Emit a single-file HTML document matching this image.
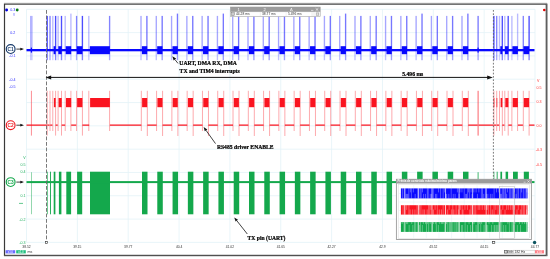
<!DOCTYPE html><html><head><meta charset="utf-8"><title>Oscilloscope capture</title>
<style>html,body{margin:0;padding:0;background:#fff;}body{width:550px;height:259px;overflow:hidden;font-family:"Liberation Sans",sans-serif;}svg{display:block;}text{font-family:"Liberation Sans",sans-serif;}.s{font-family:"Liberation Serif",serif;font-weight:bold;fill:#000;stroke:#000;stroke-width:.2px;}</style></head><body>
<svg width="550" height="259" viewBox="0 0 550 259">
<rect width="550" height="259" fill="#fff"/>
<path d="M26.50 9.3V242.4M26.5 9.30H535.0M77.35 9.3V242.4M26.5 32.61H535.0M128.20 9.3V242.4M26.5 55.92H535.0M179.05 9.3V242.4M26.5 79.23H535.0M229.90 9.3V242.4M26.5 102.54H535.0M280.75 9.3V242.4M26.5 125.85H535.0M331.60 9.3V242.4M26.5 149.16H535.0M382.45 9.3V242.4M26.5 172.47H535.0M433.30 9.3V242.4M26.5 195.78H535.0M484.15 9.3V242.4M26.5 219.09H535.0M535.00 9.3V242.4M26.5 242.40H535.0" stroke="#e3f2f7" stroke-width="0.8" fill="none"/>
<g id="ch1">
<rect x="30.00" y="15.9" width="2.6" height="34.2" fill="#0808ff" opacity="0.3"/>
<rect x="30.00" y="50.1" width="2.6" height="10.1" fill="#0808ff" opacity="0.21"/>
<rect x="30.8" y="47.6" width="1.2" height="5" fill="#0808ff"/>
<rect x="46.53" y="15.9" width="1.35" height="34.2" fill="#0808ff" opacity="0.72"/>
<rect x="46.53" y="50.1" width="1.35" height="10.1" fill="#0808ff" opacity="0.50"/>
<rect x="49.33" y="15.9" width="1.35" height="34.2" fill="#0808ff" opacity="0.5"/>
<rect x="49.33" y="50.1" width="1.35" height="10.1" fill="#0808ff" opacity="0.35"/>
<rect x="52.12" y="15.9" width="1.35" height="34.2" fill="#0808ff" opacity="0.28"/>
<rect x="52.12" y="50.1" width="1.35" height="10.1" fill="#0808ff" opacity="0.20"/>
<rect x="54.93" y="15.9" width="1.35" height="34.2" fill="#0808ff" opacity="0.72"/>
<rect x="54.93" y="50.1" width="1.35" height="10.1" fill="#0808ff" opacity="0.50"/>
<rect x="57.43" y="15.9" width="1.35" height="34.2" fill="#0808ff" opacity="0.28"/>
<rect x="57.43" y="50.1" width="1.35" height="10.1" fill="#0808ff" opacity="0.20"/>
<rect x="60.83" y="15.9" width="1.35" height="34.2" fill="#0808ff" opacity="0.72"/>
<rect x="60.83" y="50.1" width="1.35" height="10.1" fill="#0808ff" opacity="0.50"/>
<rect x="64.53" y="15.9" width="1.35" height="34.2" fill="#0808ff" opacity="0.28"/>
<rect x="64.53" y="50.1" width="1.35" height="10.1" fill="#0808ff" opacity="0.20"/>
<rect x="70.23" y="13.6" width="1.35" height="36.5" fill="#0808ff" opacity="0.28"/>
<rect x="70.23" y="50.1" width="1.35" height="10.1" fill="#0808ff" opacity="0.20"/>
<rect x="75.92" y="15.9" width="1.35" height="34.2" fill="#0808ff" opacity="0.5"/>
<rect x="75.92" y="50.1" width="1.35" height="10.1" fill="#0808ff" opacity="0.35"/>
<rect x="81.73" y="15.9" width="1.35" height="34.2" fill="#0808ff" opacity="0.72"/>
<rect x="81.73" y="50.1" width="1.35" height="10.1" fill="#0808ff" opacity="0.50"/>
<rect x="88.12" y="15.9" width="1.35" height="34.2" fill="#0808ff" opacity="0.28"/>
<rect x="88.12" y="50.1" width="1.35" height="10.1" fill="#0808ff" opacity="0.20"/>
<rect x="108.92" y="15.9" width="1.35" height="34.2" fill="#0808ff" opacity="0.5"/>
<rect x="108.92" y="50.1" width="1.35" height="10.1" fill="#0808ff" opacity="0.35"/>
<rect x="53.60" y="46.2" width="2.00" height="8" fill="#0808ff"/>
<rect x="58.30" y="46.2" width="3.40" height="8" fill="#0808ff"/>
<rect x="65.70" y="46.2" width="5.50" height="8" fill="#0808ff"/>
<rect x="76.80" y="46.2" width="5.60" height="8" fill="#0808ff"/>
<rect x="89.80" y="46.2" width="20.10" height="8" fill="#0808ff"/>
<rect x="493.22" y="15.9" width="1.35" height="34.2" fill="#0808ff" opacity="0.72"/>
<rect x="493.22" y="50.1" width="1.35" height="10.1" fill="#0808ff" opacity="0.50"/>
<rect x="496.02" y="15.9" width="1.35" height="34.2" fill="#0808ff" opacity="0.5"/>
<rect x="496.02" y="50.1" width="1.35" height="10.1" fill="#0808ff" opacity="0.35"/>
<rect x="498.82" y="15.9" width="1.35" height="34.2" fill="#0808ff" opacity="0.28"/>
<rect x="498.82" y="50.1" width="1.35" height="10.1" fill="#0808ff" opacity="0.20"/>
<rect x="501.62" y="15.9" width="1.35" height="34.2" fill="#0808ff" opacity="0.72"/>
<rect x="501.62" y="50.1" width="1.35" height="10.1" fill="#0808ff" opacity="0.50"/>
<rect x="504.12" y="15.9" width="1.35" height="34.2" fill="#0808ff" opacity="0.28"/>
<rect x="504.12" y="50.1" width="1.35" height="10.1" fill="#0808ff" opacity="0.20"/>
<rect x="507.52" y="15.9" width="1.35" height="34.2" fill="#0808ff" opacity="0.72"/>
<rect x="507.52" y="50.1" width="1.35" height="10.1" fill="#0808ff" opacity="0.50"/>
<rect x="511.22" y="15.9" width="1.35" height="34.2" fill="#0808ff" opacity="0.28"/>
<rect x="511.22" y="50.1" width="1.35" height="10.1" fill="#0808ff" opacity="0.20"/>
<rect x="516.93" y="13.6" width="1.35" height="36.5" fill="#0808ff" opacity="0.28"/>
<rect x="516.93" y="50.1" width="1.35" height="10.1" fill="#0808ff" opacity="0.20"/>
<rect x="522.62" y="15.9" width="1.35" height="34.2" fill="#0808ff" opacity="0.5"/>
<rect x="522.62" y="50.1" width="1.35" height="10.1" fill="#0808ff" opacity="0.35"/>
<rect x="528.43" y="15.9" width="1.35" height="34.2" fill="#0808ff" opacity="0.72"/>
<rect x="528.43" y="50.1" width="1.35" height="10.1" fill="#0808ff" opacity="0.50"/>
<rect x="500.30" y="46.2" width="2.00" height="8" fill="#0808ff"/>
<rect x="505.00" y="46.2" width="3.40" height="8" fill="#0808ff"/>
<rect x="512.40" y="46.2" width="5.50" height="8" fill="#0808ff"/>
<rect x="523.50" y="46.2" width="5.60" height="8" fill="#0808ff"/>
<rect x="140.32" y="15.9" width="1.35" height="34.2" fill="#0808ff" opacity="0.36"/>
<rect x="140.32" y="50.1" width="1.35" height="10.1" fill="#0808ff" opacity="0.25"/>
<rect x="146.22" y="15.9" width="1.35" height="34.2" fill="#0808ff" opacity="0.55"/>
<rect x="146.22" y="50.1" width="1.35" height="10.1" fill="#0808ff" opacity="0.39"/>
<rect x="141.90" y="46.2" width="5.30" height="8" fill="#0808ff"/>
<rect x="155.61" y="15.9" width="1.35" height="34.2" fill="#0808ff" opacity="0.36"/>
<rect x="155.61" y="50.1" width="1.35" height="10.1" fill="#0808ff" opacity="0.25"/>
<rect x="161.51" y="15.9" width="1.35" height="34.2" fill="#0808ff" opacity="0.55"/>
<rect x="161.51" y="50.1" width="1.35" height="10.1" fill="#0808ff" opacity="0.39"/>
<rect x="157.19" y="46.2" width="5.30" height="8" fill="#0808ff"/>
<rect x="170.89" y="15.9" width="1.35" height="34.2" fill="#0808ff" opacity="0.36"/>
<rect x="170.89" y="50.1" width="1.35" height="10.1" fill="#0808ff" opacity="0.25"/>
<rect x="176.79" y="13.6" width="1.35" height="36.5" fill="#0808ff" opacity="0.55"/>
<rect x="176.79" y="50.1" width="1.35" height="10.1" fill="#0808ff" opacity="0.39"/>
<rect x="172.47" y="46.2" width="5.30" height="8" fill="#0808ff"/>
<rect x="186.18" y="15.9" width="1.35" height="34.2" fill="#0808ff" opacity="0.36"/>
<rect x="186.18" y="50.1" width="1.35" height="10.1" fill="#0808ff" opacity="0.25"/>
<rect x="192.08" y="15.9" width="1.35" height="34.2" fill="#0808ff" opacity="0.55"/>
<rect x="192.08" y="50.1" width="1.35" height="10.1" fill="#0808ff" opacity="0.39"/>
<rect x="187.75" y="46.2" width="5.30" height="8" fill="#0808ff"/>
<rect x="201.47" y="15.9" width="1.35" height="34.2" fill="#0808ff" opacity="0.36"/>
<rect x="201.47" y="50.1" width="1.35" height="10.1" fill="#0808ff" opacity="0.25"/>
<rect x="207.37" y="15.9" width="1.35" height="34.2" fill="#0808ff" opacity="0.55"/>
<rect x="207.37" y="50.1" width="1.35" height="10.1" fill="#0808ff" opacity="0.39"/>
<rect x="203.04" y="46.2" width="5.30" height="8" fill="#0808ff"/>
<rect x="216.75" y="15.9" width="1.35" height="34.2" fill="#0808ff" opacity="0.36"/>
<rect x="216.75" y="50.1" width="1.35" height="10.1" fill="#0808ff" opacity="0.25"/>
<rect x="222.65" y="13.6" width="1.35" height="36.5" fill="#0808ff" opacity="0.55"/>
<rect x="222.65" y="50.1" width="1.35" height="10.1" fill="#0808ff" opacity="0.39"/>
<rect x="218.32" y="46.2" width="5.30" height="8" fill="#0808ff"/>
<rect x="232.03" y="15.9" width="1.35" height="34.2" fill="#0808ff" opacity="0.36"/>
<rect x="232.03" y="50.1" width="1.35" height="10.1" fill="#0808ff" opacity="0.25"/>
<rect x="237.94" y="15.9" width="1.35" height="34.2" fill="#0808ff" opacity="0.55"/>
<rect x="237.94" y="50.1" width="1.35" height="10.1" fill="#0808ff" opacity="0.39"/>
<rect x="233.61" y="46.2" width="5.30" height="8" fill="#0808ff"/>
<rect x="247.32" y="15.9" width="1.35" height="34.2" fill="#0808ff" opacity="0.36"/>
<rect x="247.32" y="50.1" width="1.35" height="10.1" fill="#0808ff" opacity="0.25"/>
<rect x="253.22" y="15.9" width="1.35" height="34.2" fill="#0808ff" opacity="0.55"/>
<rect x="253.22" y="50.1" width="1.35" height="10.1" fill="#0808ff" opacity="0.39"/>
<rect x="248.90" y="46.2" width="5.30" height="8" fill="#0808ff"/>
<rect x="262.61" y="15.9" width="1.35" height="34.2" fill="#0808ff" opacity="0.36"/>
<rect x="262.61" y="50.1" width="1.35" height="10.1" fill="#0808ff" opacity="0.25"/>
<rect x="268.50" y="15.9" width="1.35" height="34.2" fill="#0808ff" opacity="0.55"/>
<rect x="268.50" y="50.1" width="1.35" height="10.1" fill="#0808ff" opacity="0.39"/>
<rect x="264.18" y="46.2" width="5.30" height="8" fill="#0808ff"/>
<rect x="277.89" y="15.9" width="1.35" height="34.2" fill="#0808ff" opacity="0.36"/>
<rect x="277.89" y="50.1" width="1.35" height="10.1" fill="#0808ff" opacity="0.25"/>
<rect x="283.79" y="15.9" width="1.35" height="34.2" fill="#0808ff" opacity="0.55"/>
<rect x="283.79" y="50.1" width="1.35" height="10.1" fill="#0808ff" opacity="0.39"/>
<rect x="279.47" y="46.2" width="5.30" height="8" fill="#0808ff"/>
<rect x="293.18" y="15.9" width="1.35" height="34.2" fill="#0808ff" opacity="0.36"/>
<rect x="293.18" y="50.1" width="1.35" height="10.1" fill="#0808ff" opacity="0.25"/>
<rect x="299.07" y="15.9" width="1.35" height="34.2" fill="#0808ff" opacity="0.55"/>
<rect x="299.07" y="50.1" width="1.35" height="10.1" fill="#0808ff" opacity="0.39"/>
<rect x="294.75" y="46.2" width="5.30" height="8" fill="#0808ff"/>
<rect x="308.46" y="15.9" width="1.35" height="34.2" fill="#0808ff" opacity="0.36"/>
<rect x="308.46" y="50.1" width="1.35" height="10.1" fill="#0808ff" opacity="0.25"/>
<rect x="314.36" y="15.9" width="1.35" height="34.2" fill="#0808ff" opacity="0.55"/>
<rect x="314.36" y="50.1" width="1.35" height="10.1" fill="#0808ff" opacity="0.39"/>
<rect x="310.03" y="46.2" width="5.30" height="8" fill="#0808ff"/>
<rect x="323.75" y="15.9" width="1.35" height="34.2" fill="#0808ff" opacity="0.36"/>
<rect x="323.75" y="50.1" width="1.35" height="10.1" fill="#0808ff" opacity="0.25"/>
<rect x="329.65" y="15.9" width="1.35" height="34.2" fill="#0808ff" opacity="0.55"/>
<rect x="329.65" y="50.1" width="1.35" height="10.1" fill="#0808ff" opacity="0.39"/>
<rect x="325.32" y="46.2" width="5.30" height="8" fill="#0808ff"/>
<rect x="339.03" y="15.9" width="1.35" height="34.2" fill="#0808ff" opacity="0.36"/>
<rect x="339.03" y="50.1" width="1.35" height="10.1" fill="#0808ff" opacity="0.25"/>
<rect x="344.93" y="13.6" width="1.35" height="36.5" fill="#0808ff" opacity="0.55"/>
<rect x="344.93" y="50.1" width="1.35" height="10.1" fill="#0808ff" opacity="0.39"/>
<rect x="340.61" y="46.2" width="5.30" height="8" fill="#0808ff"/>
<rect x="354.31" y="15.9" width="1.35" height="34.2" fill="#0808ff" opacity="0.36"/>
<rect x="354.31" y="50.1" width="1.35" height="10.1" fill="#0808ff" opacity="0.25"/>
<rect x="360.21" y="15.9" width="1.35" height="34.2" fill="#0808ff" opacity="0.55"/>
<rect x="360.21" y="50.1" width="1.35" height="10.1" fill="#0808ff" opacity="0.39"/>
<rect x="355.89" y="46.2" width="5.30" height="8" fill="#0808ff"/>
<rect x="369.60" y="15.9" width="1.35" height="34.2" fill="#0808ff" opacity="0.36"/>
<rect x="369.60" y="50.1" width="1.35" height="10.1" fill="#0808ff" opacity="0.25"/>
<rect x="375.50" y="15.9" width="1.35" height="34.2" fill="#0808ff" opacity="0.55"/>
<rect x="375.50" y="50.1" width="1.35" height="10.1" fill="#0808ff" opacity="0.39"/>
<rect x="371.18" y="46.2" width="5.30" height="8" fill="#0808ff"/>
<rect x="384.89" y="15.9" width="1.35" height="34.2" fill="#0808ff" opacity="0.36"/>
<rect x="384.89" y="50.1" width="1.35" height="10.1" fill="#0808ff" opacity="0.25"/>
<rect x="390.79" y="15.9" width="1.35" height="34.2" fill="#0808ff" opacity="0.55"/>
<rect x="390.79" y="50.1" width="1.35" height="10.1" fill="#0808ff" opacity="0.39"/>
<rect x="386.46" y="46.2" width="5.30" height="8" fill="#0808ff"/>
<rect x="400.17" y="15.9" width="1.35" height="34.2" fill="#0808ff" opacity="0.36"/>
<rect x="400.17" y="50.1" width="1.35" height="10.1" fill="#0808ff" opacity="0.25"/>
<rect x="406.07" y="15.9" width="1.35" height="34.2" fill="#0808ff" opacity="0.55"/>
<rect x="406.07" y="50.1" width="1.35" height="10.1" fill="#0808ff" opacity="0.39"/>
<rect x="401.75" y="46.2" width="5.30" height="8" fill="#0808ff"/>
<rect x="415.45" y="15.9" width="1.35" height="34.2" fill="#0808ff" opacity="0.36"/>
<rect x="415.45" y="50.1" width="1.35" height="10.1" fill="#0808ff" opacity="0.25"/>
<rect x="421.35" y="13.6" width="1.35" height="36.5" fill="#0808ff" opacity="0.55"/>
<rect x="421.35" y="50.1" width="1.35" height="10.1" fill="#0808ff" opacity="0.39"/>
<rect x="417.03" y="46.2" width="5.30" height="8" fill="#0808ff"/>
<rect x="430.74" y="15.9" width="1.35" height="34.2" fill="#0808ff" opacity="0.36"/>
<rect x="430.74" y="50.1" width="1.35" height="10.1" fill="#0808ff" opacity="0.25"/>
<rect x="436.64" y="15.9" width="1.35" height="34.2" fill="#0808ff" opacity="0.55"/>
<rect x="436.64" y="50.1" width="1.35" height="10.1" fill="#0808ff" opacity="0.39"/>
<rect x="432.32" y="46.2" width="5.30" height="8" fill="#0808ff"/>
<rect x="446.03" y="15.9" width="1.35" height="34.2" fill="#0808ff" opacity="0.36"/>
<rect x="446.03" y="50.1" width="1.35" height="10.1" fill="#0808ff" opacity="0.25"/>
<rect x="451.93" y="15.9" width="1.35" height="34.2" fill="#0808ff" opacity="0.55"/>
<rect x="451.93" y="50.1" width="1.35" height="10.1" fill="#0808ff" opacity="0.39"/>
<rect x="447.60" y="46.2" width="5.30" height="8" fill="#0808ff"/>
<rect x="461.31" y="15.9" width="1.35" height="34.2" fill="#0808ff" opacity="0.36"/>
<rect x="461.31" y="50.1" width="1.35" height="10.1" fill="#0808ff" opacity="0.25"/>
<rect x="467.21" y="13.6" width="1.35" height="36.5" fill="#0808ff" opacity="0.55"/>
<rect x="467.21" y="50.1" width="1.35" height="10.1" fill="#0808ff" opacity="0.39"/>
<rect x="462.88" y="46.2" width="5.30" height="8" fill="#0808ff"/>
<rect x="477.50" y="15.9" width="1.2" height="34.2" fill="#0808ff" opacity="0.6"/>
<rect x="477.50" y="50.1" width="1.2" height="10.1" fill="#0808ff" opacity="0.42"/>
<rect x="477.50" y="47.6" width="1.2" height="5" fill="#0808ff"/>
<rect x="26.5" y="49" width="508.0" height="2.3" fill="#0808ff"/>
</g>
<g id="ch2">
<rect x="30.92" y="90.8" width="0.95" height="44.8" fill="#fa1420" opacity="0.5"/>
<rect x="46.73" y="90.8" width="0.95" height="44.8" fill="#fa1420" opacity="0.38"/>
<rect x="49.52" y="90.8" width="0.95" height="40.2" fill="#fa1420" opacity="0.38"/>
<rect x="52.32" y="90.8" width="0.95" height="40.2" fill="#fa1420" opacity="0.38"/>
<rect x="55.12" y="90.8" width="0.95" height="44.8" fill="#fa1420" opacity="0.38"/>
<rect x="57.62" y="90.8" width="0.95" height="40.2" fill="#fa1420" opacity="0.38"/>
<rect x="61.02" y="90.8" width="0.95" height="44.8" fill="#fa1420" opacity="0.38"/>
<rect x="64.73" y="90.8" width="0.95" height="40.2" fill="#fa1420" opacity="0.38"/>
<rect x="70.43" y="90.8" width="0.95" height="40.2" fill="#fa1420" opacity="0.38"/>
<rect x="76.12" y="90.8" width="0.95" height="40.2" fill="#fa1420" opacity="0.38"/>
<rect x="81.93" y="90.8" width="0.95" height="44.8" fill="#fa1420" opacity="0.38"/>
<rect x="88.33" y="90.8" width="0.95" height="40.2" fill="#fa1420" opacity="0.38"/>
<rect x="109.12" y="90.8" width="0.95" height="40.2" fill="#fa1420" opacity="0.38"/>
<rect x="53.90" y="98" width="1.70" height="9.2" fill="#fa1420"/>
<rect x="58.60" y="98" width="3.10" height="9.2" fill="#fa1420"/>
<rect x="66.00" y="98" width="5.20" height="9.2" fill="#fa1420"/>
<rect x="77.10" y="98" width="5.30" height="9.2" fill="#fa1420"/>
<rect x="90.10" y="98" width="19.80" height="9.2" fill="#fa1420"/>
<rect x="493.42" y="90.8" width="0.95" height="44.8" fill="#fa1420" opacity="0.38"/>
<rect x="496.22" y="90.8" width="0.95" height="40.2" fill="#fa1420" opacity="0.38"/>
<rect x="499.02" y="90.8" width="0.95" height="40.2" fill="#fa1420" opacity="0.38"/>
<rect x="501.82" y="90.8" width="0.95" height="44.8" fill="#fa1420" opacity="0.38"/>
<rect x="504.32" y="90.8" width="0.95" height="40.2" fill="#fa1420" opacity="0.38"/>
<rect x="507.72" y="90.8" width="0.95" height="44.8" fill="#fa1420" opacity="0.38"/>
<rect x="511.42" y="90.8" width="0.95" height="40.2" fill="#fa1420" opacity="0.38"/>
<rect x="517.12" y="90.8" width="0.95" height="40.2" fill="#fa1420" opacity="0.38"/>
<rect x="522.82" y="90.8" width="0.95" height="40.2" fill="#fa1420" opacity="0.38"/>
<rect x="528.62" y="90.8" width="0.95" height="44.8" fill="#fa1420" opacity="0.38"/>
<rect x="500.60" y="98" width="1.70" height="9.2" fill="#fa1420"/>
<rect x="505.30" y="98" width="3.10" height="9.2" fill="#fa1420"/>
<rect x="512.70" y="98" width="5.20" height="9.2" fill="#fa1420"/>
<rect x="523.80" y="98" width="5.30" height="9.2" fill="#fa1420"/>
<rect x="140.83" y="90.8" width="0.95" height="40.2" fill="#fa1420" opacity="0.38"/>
<rect x="146.83" y="90.8" width="0.95" height="45.2" fill="#fa1420" opacity="0.38"/>
<rect x="142.10" y="98" width="5.10" height="9.2" fill="#fa1420"/>
<rect x="156.11" y="90.8" width="0.95" height="40.2" fill="#fa1420" opacity="0.38"/>
<rect x="162.11" y="90.8" width="0.95" height="45.2" fill="#fa1420" opacity="0.38"/>
<rect x="157.38" y="98" width="5.10" height="9.2" fill="#fa1420"/>
<rect x="171.40" y="90.8" width="0.95" height="40.2" fill="#fa1420" opacity="0.38"/>
<rect x="177.40" y="90.8" width="0.95" height="45.2" fill="#fa1420" opacity="0.38"/>
<rect x="172.67" y="98" width="5.10" height="9.2" fill="#fa1420"/>
<rect x="186.68" y="90.8" width="0.95" height="40.2" fill="#fa1420" opacity="0.38"/>
<rect x="192.68" y="90.8" width="0.95" height="45.2" fill="#fa1420" opacity="0.38"/>
<rect x="187.95" y="98" width="5.10" height="9.2" fill="#fa1420"/>
<rect x="201.97" y="90.8" width="0.95" height="40.2" fill="#fa1420" opacity="0.38"/>
<rect x="207.97" y="90.8" width="0.95" height="45.2" fill="#fa1420" opacity="0.38"/>
<rect x="203.24" y="98" width="5.10" height="9.2" fill="#fa1420"/>
<rect x="217.25" y="90.8" width="0.95" height="40.2" fill="#fa1420" opacity="0.38"/>
<rect x="223.25" y="90.8" width="0.95" height="45.2" fill="#fa1420" opacity="0.38"/>
<rect x="218.52" y="98" width="5.10" height="9.2" fill="#fa1420"/>
<rect x="232.54" y="90.8" width="0.95" height="40.2" fill="#fa1420" opacity="0.38"/>
<rect x="238.54" y="90.8" width="0.95" height="45.2" fill="#fa1420" opacity="0.38"/>
<rect x="233.81" y="98" width="5.10" height="9.2" fill="#fa1420"/>
<rect x="247.82" y="90.8" width="0.95" height="40.2" fill="#fa1420" opacity="0.38"/>
<rect x="253.82" y="90.8" width="0.95" height="45.2" fill="#fa1420" opacity="0.38"/>
<rect x="249.09" y="98" width="5.10" height="9.2" fill="#fa1420"/>
<rect x="263.10" y="90.8" width="0.95" height="40.2" fill="#fa1420" opacity="0.38"/>
<rect x="269.11" y="90.8" width="0.95" height="45.2" fill="#fa1420" opacity="0.38"/>
<rect x="264.38" y="98" width="5.10" height="9.2" fill="#fa1420"/>
<rect x="278.39" y="90.8" width="0.95" height="40.2" fill="#fa1420" opacity="0.38"/>
<rect x="284.39" y="90.8" width="0.95" height="45.2" fill="#fa1420" opacity="0.38"/>
<rect x="279.67" y="98" width="5.10" height="9.2" fill="#fa1420"/>
<rect x="293.67" y="90.8" width="0.95" height="40.2" fill="#fa1420" opacity="0.38"/>
<rect x="299.68" y="90.8" width="0.95" height="45.2" fill="#fa1420" opacity="0.38"/>
<rect x="294.95" y="98" width="5.10" height="9.2" fill="#fa1420"/>
<rect x="308.96" y="90.8" width="0.95" height="40.2" fill="#fa1420" opacity="0.38"/>
<rect x="314.96" y="90.8" width="0.95" height="45.2" fill="#fa1420" opacity="0.38"/>
<rect x="310.23" y="98" width="5.10" height="9.2" fill="#fa1420"/>
<rect x="324.25" y="90.8" width="0.95" height="40.2" fill="#fa1420" opacity="0.38"/>
<rect x="330.25" y="90.8" width="0.95" height="45.2" fill="#fa1420" opacity="0.38"/>
<rect x="325.52" y="98" width="5.10" height="9.2" fill="#fa1420"/>
<rect x="339.53" y="90.8" width="0.95" height="40.2" fill="#fa1420" opacity="0.38"/>
<rect x="345.53" y="90.8" width="0.95" height="45.2" fill="#fa1420" opacity="0.38"/>
<rect x="340.81" y="98" width="5.10" height="9.2" fill="#fa1420"/>
<rect x="354.81" y="90.8" width="0.95" height="40.2" fill="#fa1420" opacity="0.38"/>
<rect x="360.81" y="90.8" width="0.95" height="45.2" fill="#fa1420" opacity="0.38"/>
<rect x="356.09" y="98" width="5.10" height="9.2" fill="#fa1420"/>
<rect x="370.10" y="90.8" width="0.95" height="40.2" fill="#fa1420" opacity="0.38"/>
<rect x="376.10" y="90.8" width="0.95" height="45.2" fill="#fa1420" opacity="0.38"/>
<rect x="371.38" y="98" width="5.10" height="9.2" fill="#fa1420"/>
<rect x="385.38" y="90.8" width="0.95" height="40.2" fill="#fa1420" opacity="0.38"/>
<rect x="391.39" y="90.8" width="0.95" height="45.2" fill="#fa1420" opacity="0.38"/>
<rect x="386.66" y="98" width="5.10" height="9.2" fill="#fa1420"/>
<rect x="400.67" y="90.8" width="0.95" height="40.2" fill="#fa1420" opacity="0.38"/>
<rect x="406.67" y="90.8" width="0.95" height="45.2" fill="#fa1420" opacity="0.38"/>
<rect x="401.94" y="98" width="5.10" height="9.2" fill="#fa1420"/>
<rect x="415.95" y="90.8" width="0.95" height="40.2" fill="#fa1420" opacity="0.38"/>
<rect x="421.95" y="90.8" width="0.95" height="45.2" fill="#fa1420" opacity="0.38"/>
<rect x="417.23" y="98" width="5.10" height="9.2" fill="#fa1420"/>
<rect x="431.24" y="90.8" width="0.95" height="40.2" fill="#fa1420" opacity="0.38"/>
<rect x="437.24" y="90.8" width="0.95" height="45.2" fill="#fa1420" opacity="0.38"/>
<rect x="432.52" y="98" width="5.10" height="9.2" fill="#fa1420"/>
<rect x="446.52" y="90.8" width="0.95" height="40.2" fill="#fa1420" opacity="0.38"/>
<rect x="452.53" y="90.8" width="0.95" height="45.2" fill="#fa1420" opacity="0.38"/>
<rect x="447.80" y="98" width="5.10" height="9.2" fill="#fa1420"/>
<rect x="461.81" y="90.8" width="0.95" height="40.2" fill="#fa1420" opacity="0.38"/>
<rect x="467.81" y="90.8" width="0.95" height="45.2" fill="#fa1420" opacity="0.38"/>
<rect x="463.08" y="98" width="5.10" height="9.2" fill="#fa1420"/>
<rect x="477.62" y="90.8" width="0.95" height="44.8" fill="#fa1420" opacity="0.7"/>
<rect x="493.6" y="98" width="0.8" height="9.2" fill="#fa1420" opacity=".85"/><rect x="496.5" y="98" width="0.8" height="9.2" fill="#fa1420" opacity=".85"/>
<path d="M26.50 125.1H46.90M47.40 125.1H49.60M50.20 125.1H52.40M55.60 125.1H57.70M61.70 125.1H65.10M71.20 125.1H76.20M82.40 125.1H89.20M109.90 125.1H141.30M147.30 125.1H156.59M162.59 125.1H171.87M177.87 125.1H187.16M193.16 125.1H202.44M208.44 125.1H217.72M223.72 125.1H233.01M239.01 125.1H248.30M254.30 125.1H263.58M269.58 125.1H278.87M284.87 125.1H294.15M300.15 125.1H309.43M315.44 125.1H324.72M330.72 125.1H340.00M346.01 125.1H355.29M361.29 125.1H370.57M376.58 125.1H385.86M391.86 125.1H401.14M407.15 125.1H416.43M422.43 125.1H431.72M437.72 125.1H447.00M453.00 125.1H462.28M468.29 125.1H477.70M478.50 125.1H493.60M494.10 125.1H496.30M496.90 125.1H499.10M502.30 125.1H504.40M508.40 125.1H511.80M517.90 125.1H522.90M529.10 125.1H534.50" stroke="#fa1420" stroke-width="1.4" fill="none"/>
</g>
<g id="ch3">
<rect x="31.0" y="172.2" width="0.9" height="42" fill="#14a84c" opacity=".5"/>
<rect x="47.00" y="171.7" width="0.60" height="42.6" fill="#14a84c"/>
<rect x="50.00" y="171.7" width="0.90" height="42.6" fill="#14a84c"/>
<rect x="53.70" y="171.7" width="1.70" height="42.6" fill="#14a84c"/>
<rect x="58.90" y="171.7" width="2.50" height="42.6" fill="#14a84c"/>
<rect x="66.30" y="171.7" width="4.80" height="42.6" fill="#14a84c"/>
<rect x="77.10" y="171.7" width="5.10" height="42.6" fill="#14a84c"/>
<rect x="90.00" y="171.7" width="20.00" height="42.6" fill="#14a84c"/>
<rect x="493.70" y="171.7" width="0.60" height="42.6" fill="#14a84c"/>
<rect x="496.70" y="171.7" width="0.90" height="42.6" fill="#14a84c"/>
<rect x="500.40" y="171.7" width="1.70" height="42.6" fill="#14a84c"/>
<rect x="505.60" y="171.7" width="2.50" height="42.6" fill="#14a84c"/>
<rect x="513.00" y="171.7" width="4.80" height="42.6" fill="#14a84c"/>
<rect x="523.80" y="171.7" width="5.10" height="42.6" fill="#14a84c"/>
<rect x="142.00" y="171.7" width="5.50" height="42.6" fill="#14a84c"/>
<rect x="157.28" y="171.7" width="5.50" height="42.6" fill="#14a84c"/>
<rect x="172.57" y="171.7" width="5.50" height="42.6" fill="#14a84c"/>
<rect x="187.85" y="171.7" width="5.50" height="42.6" fill="#14a84c"/>
<rect x="203.14" y="171.7" width="5.50" height="42.6" fill="#14a84c"/>
<rect x="218.42" y="171.7" width="5.50" height="42.6" fill="#14a84c"/>
<rect x="233.71" y="171.7" width="5.50" height="42.6" fill="#14a84c"/>
<rect x="249.00" y="171.7" width="5.50" height="42.6" fill="#14a84c"/>
<rect x="264.28" y="171.7" width="5.50" height="42.6" fill="#14a84c"/>
<rect x="279.57" y="171.7" width="5.50" height="42.6" fill="#14a84c"/>
<rect x="294.85" y="171.7" width="5.50" height="42.6" fill="#14a84c"/>
<rect x="310.13" y="171.7" width="5.50" height="42.6" fill="#14a84c"/>
<rect x="325.42" y="171.7" width="5.50" height="42.6" fill="#14a84c"/>
<rect x="340.71" y="171.7" width="5.50" height="42.6" fill="#14a84c"/>
<rect x="355.99" y="171.7" width="5.50" height="42.6" fill="#14a84c"/>
<rect x="371.28" y="171.7" width="5.50" height="42.6" fill="#14a84c"/>
<rect x="386.56" y="171.7" width="5.50" height="42.6" fill="#14a84c"/>
<rect x="401.85" y="171.7" width="5.50" height="42.6" fill="#14a84c"/>
<rect x="417.13" y="171.7" width="5.50" height="42.6" fill="#14a84c"/>
<rect x="432.42" y="171.7" width="5.50" height="42.6" fill="#14a84c"/>
<rect x="447.70" y="171.7" width="5.50" height="42.6" fill="#14a84c"/>
<rect x="462.99" y="171.7" width="5.50" height="42.6" fill="#14a84c"/>
<rect x="477.60" y="172.2" width="1" height="42" fill="#14a84c" opacity=".8"/>
<rect x="26.5" y="181.1" width="508.0" height="2.0" fill="#14a84c"/>
</g>
<path d="M46.5 10V242" stroke="#6a6a6a" stroke-width="0.9" stroke-dasharray="3.8 1.7" fill="none"/>
<path d="M493.4 10V242" stroke="#555" stroke-width="0.8" stroke-dasharray="1.7 1.6" fill="none"/>
<rect x="45.4" y="241.3" width="2.2" height="2.2" fill="#fff" stroke="#333" stroke-width=".6"/>
<rect x="492.59999999999997" y="241.3" width="2.2" height="2.2" fill="#fff" stroke="#333" stroke-width=".6"/>
<circle cx="534.6" cy="242.5" r="1.7" fill="#0d5560"/>
<path d="M49 77.4H490" stroke="#111" stroke-width="1" fill="none"/>
<path d="M45.6 77.4L51.2 75.4V79.4Z" fill="#111"/>
<path d="M492.8 77.4L487.2 75.4V79.4Z" fill="#111"/>
<text class="s" x="402.3" y="75.6" font-size="5.5" textLength="21" lengthAdjust="spacingAndGlyphs">5.496 ms</text>
<path d="M178.0 63.4L174.9 59.5" stroke="#111" stroke-width=".8" fill="none"/>
<path d="M172.3 56.2L176.1 58.6L173.7 60.4Z" fill="#111"/>
<text class="s" x="179.3" y="65.2" font-size="5.65" textLength="57.6" lengthAdjust="spacingAndGlyphs">UART, DMA RX, DMA</text>
<text class="s" x="179.6" y="72.5" font-size="5.65" textLength="60.1" lengthAdjust="spacingAndGlyphs">TX and TIM4 interrupts</text>
<path d="M215.5 143.6L206.0 130.3" stroke="#111" stroke-width=".8" fill="none"/>
<path d="M203.6 126.9L207.3 129.4L204.8 131.2Z" fill="#111"/>
<text class="s" x="216.9" y="148.7" font-size="5.65" textLength="56.7" lengthAdjust="spacingAndGlyphs">RS485 driver ENABLE</text>
<path d="M247.3 234.0L236.8 220.7" stroke="#111" stroke-width=".8" fill="none"/>
<path d="M234.2 217.4L238.0 219.8L235.6 221.6Z" fill="#111"/>
<text class="s" x="247.6" y="239.6" font-size="5.6" textLength="37.9" lengthAdjust="spacingAndGlyphs">TX pin (UART)</text>
<circle cx="10.65" cy="49.1" r="4.4" fill="#fff" stroke="#173a6b" stroke-width="1.15"/>
<text x="10.6" y="50.800000000000004" font-size="4.8" font-weight="bold" text-anchor="middle" fill="#173a6b">C1</text>
<path d="M16.3 49.1H21" stroke="#111" stroke-width=".8"/><path d="M24 49.1L20.3 47.7V50.5Z" fill="#111"/>
<circle cx="10.65" cy="125.2" r="4.4" fill="#fff" stroke="#f01820" stroke-width="1.15"/>
<text x="10.6" y="126.9" font-size="4.8" font-weight="bold" text-anchor="middle" fill="#f01820">C2</text>
<path d="M16.3 125.2H21" stroke="#111" stroke-width=".8"/><path d="M24 125.2L20.3 123.8V126.60000000000001Z" fill="#111"/>
<circle cx="10.65" cy="182.1" r="4.4" fill="#fff" stroke="#14a84c" stroke-width="1.15"/>
<text x="10.6" y="183.79999999999998" font-size="4.8" font-weight="bold" text-anchor="middle" fill="#14a84c">C3</text>
<path d="M16.3 182.1H21" stroke="#111" stroke-width=".8"/><path d="M24 182.1L20.3 180.7V183.5Z" fill="#111"/>
<circle cx="6.6" cy="10" r="1.45" fill="#0000e0"/>
<circle cx="17.2" cy="10" r="1.45" fill="#0a7a1a"/>
<text x="10.2" y="11.0" font-size="3.6" fill="#2a2aff" text-anchor="start" opacity="1">0.3</text>
<text x="13.0" y="15.6" font-size="3.2" fill="#5a5aff" text-anchor="start" opacity="1">V</text>
<text x="10.2" y="34.2" font-size="3.6" fill="#2a2aff" text-anchor="start" opacity="1">0.2</text>
<text x="9.2" y="57.3" font-size="3.6" fill="#2a2aff" text-anchor="start" opacity="1">-0.1</text>
<text x="9.2" y="80.6" font-size="3.6" fill="#2a2aff" text-anchor="start" opacity="1">-0.4</text>
<text x="9.2" y="88.3" font-size="3.6" fill="#2a2aff" text-anchor="start" opacity="1">-0.5</text>
<circle cx="544.3" cy="10" r="1.3" fill="#e00000"/>
<text x="537.0" y="81.7" font-size="3.6" fill="#ff3030" text-anchor="start" opacity="1">V</text>
<text x="536.6" y="88.5" font-size="3.6" fill="#ff3030" text-anchor="start" opacity="1">0.5</text>
<text x="536.6" y="103.4" font-size="3.6" fill="#ff3030" text-anchor="start" opacity="1">0.3</text>
<text x="536.6" y="126.6" font-size="3.6" fill="#ff3030" text-anchor="start" opacity="1">0.0</text>
<text x="535.8" y="150.9" font-size="3.6" fill="#ff3030" text-anchor="start" opacity="1">-0.3</text>
<text x="535.8" y="165.5" font-size="3.6" fill="#ff3030" text-anchor="start" opacity="1">-0.5</text>
<text x="25.6" y="159.0" font-size="3.6" fill="#20b060" text-anchor="end" opacity="1">V</text>
<text x="25.6" y="166.2" font-size="3.6" fill="#20b060" text-anchor="end" opacity="1">0.5</text>
<text x="25.6" y="173.2" font-size="3.6" fill="#20b060" text-anchor="end" opacity="1">0.4</text>
<text x="25.6" y="197.3" font-size="3.6" fill="#20b060" text-anchor="end" opacity="1">0.1</text>
<path d="M19 203.4H23" stroke="#20b060" stroke-width=".7"/>
<text x="25.6" y="220.5" font-size="3.6" fill="#20b060" text-anchor="end" opacity="1">-0.2</text>
<text x="25.6" y="243.7" font-size="3.6" fill="#20b060" text-anchor="end" opacity="1">-0.3</text>
<text x="26.5" y="248.0" font-size="3.3" fill="#333" text-anchor="middle" opacity="1">38.52</text>
<text x="77.3" y="248.0" font-size="3.3" fill="#333" text-anchor="middle" opacity="1">39.15</text>
<text x="128.2" y="248.0" font-size="3.3" fill="#333" text-anchor="middle" opacity="1">39.77</text>
<text x="179.1" y="248.0" font-size="3.3" fill="#333" text-anchor="middle" opacity="1">40.4</text>
<text x="229.9" y="248.0" font-size="3.3" fill="#333" text-anchor="middle" opacity="1">41.02</text>
<text x="280.8" y="248.0" font-size="3.3" fill="#333" text-anchor="middle" opacity="1">41.65</text>
<text x="331.6" y="248.0" font-size="3.3" fill="#333" text-anchor="middle" opacity="1">42.27</text>
<text x="382.4" y="248.0" font-size="3.3" fill="#333" text-anchor="middle" opacity="1">42.9</text>
<text x="433.3" y="248.0" font-size="3.3" fill="#333" text-anchor="middle" opacity="1">43.52</text>
<text x="484.2" y="248.0" font-size="3.3" fill="#333" text-anchor="middle" opacity="1">44.15</text>
<text x="535.0" y="248.0" font-size="3.3" fill="#333" text-anchor="middle" opacity="1">44.77</text>
<rect x="5.6" y="250.2" width="9.6" height="3.2" fill="#6a6aff"/>
<rect x="16.2" y="250.2" width="9.6" height="3.2" fill="#22c080"/>
<text x="10.4" y="252.9" font-size="2.8" fill="#fff" text-anchor="middle" opacity="1">x1.0</text>
<text x="21.0" y="252.9" font-size="2.8" fill="#fff" text-anchor="middle" opacity="1">x1.0</text>
<text x="27.5" y="253.0" font-size="3.6" fill="#333" text-anchor="start" opacity="1">ms</text>
<rect x="504.3" y="250.2" width="9.2" height="3.2" fill="#8a8a8a"/>
<rect x="504.8" y="250.6" width="2.2" height="2.4" fill="#ddd" stroke="#444" stroke-width=".4"/>
<text x="510.6" y="252.9" font-size="2.8" fill="#fff" text-anchor="middle" opacity="1">x1.0</text>
<rect x="513.5" y="250.2" width="21.5" height="3.2" fill="#fff" stroke="#bbb" stroke-width=".5"/>
<text x="514.5" y="253.0" font-size="3.4" fill="#333" text-anchor="start" opacity="1">182 Hz</text>
<rect x="535" y="250.2" width="9" height="3.2" fill="#ff8088"/>
<text x="539.5" y="252.9" font-size="2.8" fill="#fff" text-anchor="middle" opacity="1">x1.0</text>
<rect x="230.4" y="7" width="89.8" height="9.7" fill="#f4f4f4" stroke="#9a9a9a" stroke-width=".5"/>
<rect x="230.4" y="7" width="89.8" height="4.8" fill="#9c9c9c"/>
<text x="237.5" y="10.9" font-size="4.0" fill="#fff" text-anchor="start" opacity="1">1</text>
<text x="263.5" y="10.9" font-size="4.0" fill="#fff" text-anchor="start" opacity="1">2</text>
<text x="290.0" y="10.9" font-size="4.0" fill="#fff" text-anchor="start" opacity="1">Δ</text>
<path d="M311 10.4H313.4" stroke="#fff" stroke-width=".6"/><path d="M315.6 8.2L318.4 10.8M318.4 8.2L315.6 10.8" stroke="#fff" stroke-width=".6"/>
<rect x="231.6" y="12.7" width="2.6" height="2.8" fill="#ccc" stroke="#666" stroke-width=".4"/>
<rect x="235.3" y="12.4" width="24.5" height="3.5" fill="#fff"/><rect x="261" y="12.4" width="24.5" height="3.5" fill="#fff"/><rect x="286.7" y="12.4" width="24.5" height="3.5" fill="#fff"/>
<text x="236.0" y="15.3" font-size="3.3" fill="#333" text-anchor="start" opacity="1">44.28 ms</text>
<text x="262.0" y="15.3" font-size="3.3" fill="#333" text-anchor="start" opacity="1">38.77 ms</text>
<text x="288.0" y="15.3" font-size="3.3" fill="#333" text-anchor="start" opacity="1">5.496 ms</text>
<rect x="316.6" y="12.9" width="2.2" height="2.4" fill="#ddd" stroke="#888" stroke-width=".4"/>
<rect x="396.4" y="179.3" width="135" height="60.2" fill="#fff" stroke="#9a9a9a" stroke-width=".9"/>
<rect x="396.4" y="179.3" width="135" height="4.2" fill="#9b9b9b"/>
<text x="397.6" y="182.4" font-size="3.2" font-weight="bold" fill="#fff" textLength="59" lengthAdjust="spacingAndGlyphs">Prévia de conteúdo máximo/mínimo param</text>
<path d="M523.6 182.2H525.6" stroke="#fff" stroke-width=".5"/><path d="M527.4 180.4L529.6 182.6M529.6 180.4L527.4 182.6" stroke="#fff" stroke-width=".5"/>
<rect x="398.2" y="184.6" width="131.5" height="53.8" fill="#fff" stroke="#d8d8d8" stroke-width=".5"/>
<path d="M413.7 185V238M426.3 185V238M439.0 185V238M451.6 185V238M464.3 185V238M477.0 185V238M489.6 185V238M502.3 185V238M514.9 185V238M399 193.5H529M399 202H529M399 210.5H529M399 219H529M399 227.5H529" stroke="#e2f2f6" stroke-width=".5" fill="none"/>
<rect x="400.9" y="188.4" width="126.7" height="10.0" fill="#0a0aff"/>
<path d="M402.38 188.20000000000002V198.6M404.35 188.20000000000002V198.6M406.12 193.90V198.6M407.02 193.90V198.6M407.89 193.90V198.6M408.82 188.20000000000002V198.6M410.38 188.20000000000002V192.40M411.40 188.20000000000002V198.6M413.33 188.20000000000002V192.40M415.17 193.90V198.6M417.73 188.20000000000002V198.6M420.07 188.20000000000002V198.6M421.13 188.20000000000002V198.6M422.49 188.20000000000002V192.40M423.61 193.90V198.6M425.56 193.90V198.6M427.35 188.20000000000002V198.6M428.26 188.20000000000002V198.6M430.28 193.90V198.6M431.65 193.90V198.6M433.26 188.20000000000002V198.6M435.49 193.90V198.6M436.73 193.90V198.6M438.48 188.20000000000002V192.40M440.59 188.20000000000002V198.6M443.16 188.20000000000002V198.6M444.71 188.20000000000002V192.40M445.78 193.90V198.6M446.65 193.90V198.6M448.83 193.90V198.6M451.20 188.20000000000002V198.6M453.26 193.90V198.6M455.10 193.90V198.6M457.41 188.20000000000002V192.40M459.07 193.90V198.6M459.97 188.20000000000002V192.40M461.94 188.20000000000002V192.40M464.22 188.20000000000002V198.6M465.71 193.90V198.6M466.55 193.90V198.6M467.66 188.20000000000002V198.6M468.56 188.20000000000002V192.40M469.60 188.20000000000002V198.6M471.10 188.20000000000002V192.40M472.04 193.90V198.6M473.83 188.20000000000002V192.40M476.11 188.20000000000002V192.40M477.41 193.90V198.6M478.85 188.20000000000002V192.40M481.38 188.20000000000002V198.6M482.50 188.20000000000002V198.6M483.72 193.90V198.6M485.58 188.20000000000002V198.6M486.38 193.90V198.6M487.85 193.90V198.6M490.36 193.90V198.6M492.09 193.90V198.6M494.11 188.20000000000002V198.6M496.53 188.20000000000002V192.40M498.90 188.20000000000002V192.40M500.41 193.90V198.6M501.39 193.90V198.6M502.31 188.20000000000002V198.6M503.48 188.20000000000002V198.6M504.89 188.20000000000002V198.6M505.70 188.20000000000002V198.6M506.68 193.90V198.6M507.52 188.20000000000002V192.40M509.43 188.20000000000002V198.6M510.68 188.20000000000002V198.6M512.14 188.20000000000002V198.6M514.47 188.20000000000002V192.40M516.11 193.90V198.6M517.06 188.20000000000002V198.6M518.48 188.20000000000002V198.6M520.77 188.20000000000002V198.6M521.61 188.20000000000002V192.40M523.36 188.20000000000002V198.6M525.14 188.20000000000002V198.6M526.89 188.20000000000002V192.40" stroke="#fff" stroke-width=".34" opacity=".9" fill="none"/>
<path d="M404.90 188.20000000000002V198.6M418.45 188.20000000000002V198.6M432.00 188.20000000000002V198.6M445.55 188.20000000000002V198.6M459.10 188.20000000000002V198.6M472.65 188.20000000000002V198.6M486.20 188.20000000000002V198.6M499.75 188.20000000000002V198.6M513.30 188.20000000000002V198.6M526.85 188.20000000000002V198.6" stroke="#fff" stroke-width=".7" opacity=".95" fill="none"/>
<rect x="400.9" y="205.2" width="126.7" height="9.4" fill="#fa1420"/>
<path d="M403.05 205.0V214.79999999999998M404.51 205.0V214.79999999999998M406.70 205.0V209.90M408.91 205.0V214.79999999999998M410.11 209.43V214.79999999999998M412.68 209.43V214.79999999999998M414.93 209.43V214.79999999999998M417.06 205.0V214.79999999999998M418.79 205.0V209.90M419.65 205.0V214.79999999999998M420.95 205.0V214.79999999999998M423.00 209.43V214.79999999999998M424.60 209.43V214.79999999999998M427.18 209.43V214.79999999999998M428.64 205.0V214.79999999999998M429.84 205.0V214.79999999999998M431.01 205.0V209.90M433.43 209.43V214.79999999999998M435.10 205.0V209.90M437.33 205.0V214.79999999999998M439.32 209.43V214.79999999999998M441.53 209.43V214.79999999999998M443.19 205.0V214.79999999999998M445.41 205.0V214.79999999999998M447.65 209.43V214.79999999999998M449.17 205.0V209.90M451.67 209.43V214.79999999999998M452.78 205.0V214.79999999999998M453.85 209.43V214.79999999999998M456.10 205.0V214.79999999999998M458.39 209.43V214.79999999999998M460.37 205.0V209.90M462.16 205.0V214.79999999999998M462.98 209.43V214.79999999999998M464.95 205.0V209.90M467.43 205.0V209.90M469.80 209.43V214.79999999999998M470.98 205.0V214.79999999999998M472.31 205.0V214.79999999999998M474.17 205.0V214.79999999999998M475.72 205.0V214.79999999999998M478.16 205.0V209.90M479.78 205.0V209.90M482.21 205.0V209.90M484.66 205.0V209.90M486.42 205.0V209.90M487.25 205.0V209.90M488.38 205.0V214.79999999999998M490.62 205.0V214.79999999999998M492.27 209.43V214.79999999999998M494.08 205.0V214.79999999999998M495.81 205.0V209.90M498.02 205.0V214.79999999999998M499.83 205.0V214.79999999999998M501.13 209.43V214.79999999999998M502.84 205.0V209.90M505.01 209.43V214.79999999999998M506.61 205.0V209.90M508.32 205.0V209.90M510.36 205.0V209.90M512.12 205.0V209.90M514.62 205.0V209.90M517.00 209.43V214.79999999999998M518.26 205.0V209.90M520.76 209.43V214.79999999999998M521.81 205.0V214.79999999999998M523.40 205.0V214.79999999999998M524.64 205.0V214.79999999999998M526.64 209.43V214.79999999999998" stroke="#fff" stroke-width=".34" opacity=".9" fill="none"/>
<path d="M404.90 205.0V214.79999999999998M418.45 205.0V214.79999999999998M432.00 205.0V214.79999999999998M445.55 205.0V214.79999999999998M459.10 205.0V214.79999999999998M472.65 205.0V214.79999999999998M486.20 205.0V214.79999999999998M499.75 205.0V214.79999999999998M513.30 205.0V214.79999999999998M526.85 205.0V214.79999999999998" stroke="#fff" stroke-width=".7" opacity=".95" fill="none"/>
<rect x="400.9" y="222.1" width="126.7" height="9.8" fill="#14a84c"/>
<path d="M402.08 221.9V224.06M404.07 221.9V232.1M406.46 221.9V224.06M407.65 221.9V224.06M409.17 225.04V232.1M411.75 221.9V224.06M412.84 225.04V232.1M414.57 221.9V232.1M415.72 221.9V232.1M417.82 221.9V232.1M419.62 225.04V232.1M420.45 221.9V232.1M422.37 225.04V232.1M423.29 221.9V224.06M425.51 221.9V224.06M426.50 221.9V232.1M427.37 221.9V224.06M428.65 221.9V232.1M430.21 221.9V224.06M432.49 221.9V232.1M433.56 221.9V224.06M435.38 221.9V224.06M436.35 221.9V232.1M438.38 225.04V232.1M439.32 221.9V224.06M441.26 221.9V224.06M442.21 221.9V224.06M443.13 221.9V224.06M444.74 221.9V232.1M446.54 221.9V224.06M447.82 221.9V232.1M449.57 221.9V232.1M450.57 221.9V232.1M451.46 221.9V232.1M452.82 221.9V232.1M454.99 221.9V232.1M456.69 221.9V232.1M458.11 221.9V232.1M459.36 221.9V232.1M461.48 225.04V232.1M462.62 225.04V232.1M465.11 221.9V232.1M467.38 225.04V232.1M469.07 221.9V224.06M470.58 225.04V232.1M472.62 221.9V224.06M474.03 221.9V224.06M476.10 225.04V232.1M477.63 221.9V232.1M478.53 221.9V232.1M479.46 221.9V224.06M480.72 221.9V232.1M481.67 221.9V224.06M484.04 225.04V232.1M485.35 221.9V232.1M486.67 225.04V232.1M487.76 225.04V232.1M489.03 221.9V224.06M491.58 225.04V232.1M492.82 221.9V224.06M494.18 225.04V232.1M494.98 225.04V232.1M496.63 225.04V232.1M497.80 225.04V232.1M498.61 221.9V232.1M499.57 225.04V232.1M500.44 221.9V232.1M501.79 221.9V232.1M503.64 225.04V232.1M505.79 225.04V232.1M507.88 221.9V224.06M509.38 221.9V232.1M511.96 221.9V232.1M514.06 225.04V232.1M514.94 221.9V224.06M517.34 225.04V232.1M519.47 221.9V224.06M520.52 225.04V232.1M522.22 221.9V224.06M524.47 221.9V224.06M526.32 221.9V224.06" stroke="#fff" stroke-width=".34" opacity=".9" fill="none"/>
<path d="M404.90 221.9V232.1M418.45 221.9V232.1M432.00 221.9V232.1M445.55 221.9V232.1M459.10 221.9V232.1M472.65 221.9V232.1M486.20 221.9V232.1M499.75 221.9V232.1M513.30 221.9V232.1M526.85 221.9V232.1" stroke="#fff" stroke-width=".7" opacity=".95" fill="none"/>
<rect x="499.6" y="186.3" width="15" height="52" fill="none" stroke="#c4c4c4" stroke-width=".6"/>
<rect x="4.5" y="4.1" width="541.8" height="251.3" fill="none" stroke="#3a3a3a" stroke-width="1.2"/>
<path d="M4 3.3H547" stroke="#999" stroke-width=".7"/><path d="M547.1 3.6V256" stroke="#777" stroke-width="1"/><path d="M4 256.1H547.4" stroke="#999" stroke-width=".6"/>
</svg></body></html>
